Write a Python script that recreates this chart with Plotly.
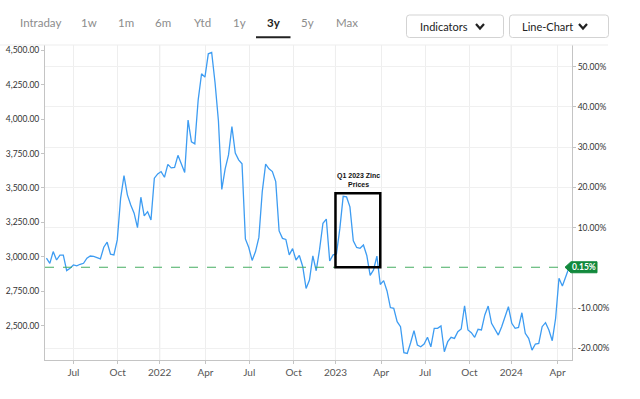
import plotly.graph_objects as go
import pandas as pd

# ---------------- data ----------------
start_date = "2021-05-11"
zinc_prices = [
    2990, 2953, 3038, 2977, 3012, 3012, 2900, 2917, 2941, 2934,
    2946, 2953, 2990, 3006, 3003, 2996, 2985, 3070, 3106, 3019,
    3014, 3123, 3426, 3590, 3450, 3377, 3317, 3212, 3433, 3297,
    3328, 3268, 3571, 3602, 3619, 3578, 3671, 3646, 3650, 3737,
    3675, 3613, 3993, 3835, 3820, 4140, 4329, 4305, 4474, 4484,
    4264, 3988, 3490, 3639, 3740, 3946, 3753, 3704, 3675, 3130,
    3068, 2974, 3038, 3141, 3474, 3673, 3639, 3619, 3546, 3188,
    3134, 3126, 3014, 3060, 2977, 3010, 2930, 2770, 2832, 3007,
    2899, 3054, 3244, 3274, 2970, 3014, 3021, 3203, 3439, 3435,
    3363, 3116, 3068, 3062, 3086, 3010, 2866, 2905, 3005, 2799,
    2827, 2752, 2632, 2626, 2529, 2493, 2304, 2299, 2376, 2464,
    2360, 2347, 2367, 2416, 2347, 2481, 2481, 2498, 2311, 2384,
    2416, 2408, 2456, 2476, 2645, 2469, 2449, 2416, 2474, 2469,
    2578, 2643, 2517, 2469, 2432, 2493, 2565, 2638, 2517, 2481,
    2488, 2594, 2445, 2408, 2323, 2367, 2372, 2493, 2522, 2469,
    2391, 2554, 2844, 2788, 2856, 2924,
]
dates = pd.date_range(start_date, periods=len(zinc_prices), freq="7D")

base_price = 2920.0
change_label = "0.15%"
change_value = 0.15

x_tick_dates = ["2021-07-06", "2021-10-06", "2022-01-01", "2022-04-06",
                "2022-07-06", "2022-10-06", "2023-01-01", "2023-04-06",
                "2023-07-06", "2023-10-06", "2024-01-01", "2024-04-06"]
x_tick_labels = ["Jul", "Oct", "2022", "Apr", "Jul", "Oct",
                 "2023", "Apr", "Jul", "Oct", "2024", "Apr"]
year_lines = ["2022-01-01", "2023-01-01", "2024-01-01"]

price_ticks = [2500, 2750, 3000, 3250, 3500, 3750, 4000, 4250, 4500]
pct_ticks = [-20, -10, 10, 20, 30, 40, 50]

range_buttons = ["Intraday", "1w", "1m", "6m", "Ytd", "1y", "3y", "5y", "Max"]
active_button = "3y"

box_x = ["2023-01-01", "2023-04-04"]
box_y = [2924, 3462]
box_label = "Q1 2023 Zinc<br>Prices"

# ---------------- layout geometry ----------------
W, H = 640, 399
L, R, T, B = 45, 68, 45, 39
PW, PH = W - L - R, H - T - B


def px(x):
    return (x - L) / PW


def py(y):
    return (H - B - y) / PH


price_range = [2251, 4538]
pct_range = [(v / base_price - 1) * 100 for v in price_range]

fig = go.Figure()
fig.add_trace(go.Scatter(
    x=dates, y=zinc_prices, mode="lines",
    line=dict(color="#3d9cf2", width=1.3),
    hoverinfo="x+y", showlegend=False,
))
# invisible trace to activate y2
fig.add_trace(go.Scatter(x=[dates[0]], y=[0], yaxis="y2", mode="markers",
                         marker=dict(opacity=0), showlegend=False, hoverinfo="skip"))

font_family = "Lato, Open Sans, DejaVu Sans, sans-serif"

fig.update_layout(
    width=W, height=H,
    margin=dict(l=L, r=R, t=T, b=B, pad=0, autoexpand=False),
    paper_bgcolor="white", plot_bgcolor="white",
    font=dict(family=font_family, color="#444"),
    xaxis=dict(
        type="date", range=["2021-05-08", "2024-05-06"],
        tickvals=x_tick_dates, ticktext=x_tick_labels,
        tickfont=dict(size=10, color="#555"),
        showgrid=True, gridcolor="#eeeeee", gridwidth=1,
        showline=True, linecolor="#c4c4c4", linewidth=1,
        ticks="outside", ticklen=3, tickcolor="#c4c4c4",
        zeroline=False, automargin=False,
    ),
    yaxis=dict(
        range=price_range, tickvals=price_ticks, tickformat=",.2f",
        tickfont=dict(size=8.5, color="#333"),
        showgrid=False, zeroline=False,
        showline=True, linecolor="#c4c4c4", linewidth=1,
        ticks="outside", ticklen=3, tickcolor="#c4c4c4", automargin=False,
    ),
    yaxis2=dict(
        range=pct_range, overlaying="y", side="right",
        tickvals=pct_ticks, ticktext=[f"{v:.2f}%" for v in pct_ticks],
        tickfont=dict(size=8.5, color="#333"),
        showgrid=True, gridcolor="#f0f0f0", gridwidth=1, zeroline=False,
        showline=True, linecolor="#c4c4c4", linewidth=1,
        ticks="outside", ticklen=3, tickcolor="#c4c4c4", automargin=False,
    ),
)

shapes = []
# darker year gridlines
for d in year_lines:
    shapes.append(dict(type="line", xref="x", yref="paper", x0=d, x1=d, y0=0, y1=1,
                       line=dict(color="#d6d6d6", width=1), layer="below"))
# top border line
shapes.append(dict(type="line", xref="paper", yref="paper", x0=px(0), x1=px(608),
                   y0=1, y1=1, line=dict(color="#ededed", width=1)))
# dashed reference line
shapes.append(dict(type="line", xref="paper", yref="y2", x0=0, x1=1,
                   y0=change_value, y1=change_value,
                   line=dict(color="#45ad62", width=1, dash="dash")))
# Q1 box
shapes.append(dict(type="rect", xref="x", yref="y", x0=box_x[0], x1=box_x[1],
                   y0=box_y[0], y1=box_y[1], line=dict(color="black", width=2.5)))
# green tag
tip, left, right = px(565), px(571), px(597)
h = 5.5 * (pct_range[1] - pct_range[0]) / PH
yc = change_value
tag_path = (f"M {tip} {yc} L {left} {yc + h} L {right} {yc + h} "
            f"L {right} {yc - h} L {left} {yc - h} Z")
shapes.append(dict(type="path", xref="paper", yref="y2", path=tag_path,
                   fillcolor="#12893d", line=dict(color="#12893d", width=1)))


def rounded_rect(x0, y0, x1, y1, r=3):
    X0, X1 = px(x0), px(x1)
    Y0, Y1 = py(y0), py(y1)
    rx, ry = r / PW, r / PH
    return (f"M {X0 + rx} {Y0} L {X1 - rx} {Y0} Q {X1} {Y0} {X1} {Y0 - ry} "
            f"L {X1} {Y1 + ry} Q {X1} {Y1} {X1 - rx} {Y1} L {X0 + rx} {Y1} "
            f"Q {X0} {Y1} {X0} {Y1 + ry} L {X0} {Y0 - ry} Q {X0} {Y0} {X0 + rx} {Y0} Z")


# buttons
for (x0, x1) in [(406.5, 503.5), (509.5, 608.5)]:
    shapes.append(dict(type="path", xref="paper", yref="paper",
                       path=rounded_rect(x0, 15, x1, 37.5),
                       line=dict(color="#d3d3d3", width=1), fillcolor="white"))
# chevrons
for cx in [480, 583]:
    shapes.append(dict(type="path", xref="paper", yref="paper",
                       path=f"M {px(cx - 4)} {py(24)} L {px(cx)} {py(28.5)} L {px(cx + 4)} {py(24)}",
                       line=dict(color="#222", width=2.2)))
# active underline
shapes.append(dict(type="line", xref="paper", yref="paper", x0=px(256), x1=px(290.5),
                   y0=py(37.3), y1=py(37.3), line=dict(color="#222", width=2)))

fig.update_layout(shapes=shapes)

annotations = []
btn_x = [40, 89, 126, 163.3, 202.5, 239, 273.5, 307.5, 347]
for name, bx in zip(range_buttons, btn_x):
    active = name == active_button
    annotations.append(dict(
        xref="paper", yref="paper", x=px(bx), y=py(22.7), showarrow=False,
        xanchor="center", yanchor="middle",
        text=f"<b>{name}</b>" if active else name,
        font=dict(size=11.5, color="#222" if active else "#8c8c8c", family=font_family)))
annotations.append(dict(xref="paper", yref="paper", x=px(444), y=py(26.2), showarrow=False,
                        xanchor="center", yanchor="middle", text="Indicators",
                        font=dict(size=11, color="#222", family=font_family)))
annotations.append(dict(xref="paper", yref="paper", x=px(547), y=py(26.2), showarrow=False,
                        xanchor="center", yanchor="middle", text="Line-Chart",
                        font=dict(size=11, color="#222", family=font_family)))
# tag text
annotations.append(dict(xref="paper", yref="y2", x=(left + right) / 2, y=change_value,
                        showarrow=False, xanchor="center", yanchor="middle",
                        text=f"<b>{change_label}</b>",
                        font=dict(size=8.5, color="white", family=font_family)))
# box label
annotations.append(dict(xref="x", yref="y", x="2023-02-18", y=box_y[1],
                        showarrow=False, xanchor="center", yanchor="bottom", yshift=3,
                        text=f"<b>{box_label}</b>",
                        font=dict(size=7, color="#111", family="Liberation Sans, Arial, sans-serif")))
fig.update_layout(annotations=annotations)

fig.write_html("out.html", config={"displayModeBar": False},
               post_script="document.body.style.margin='0';")
